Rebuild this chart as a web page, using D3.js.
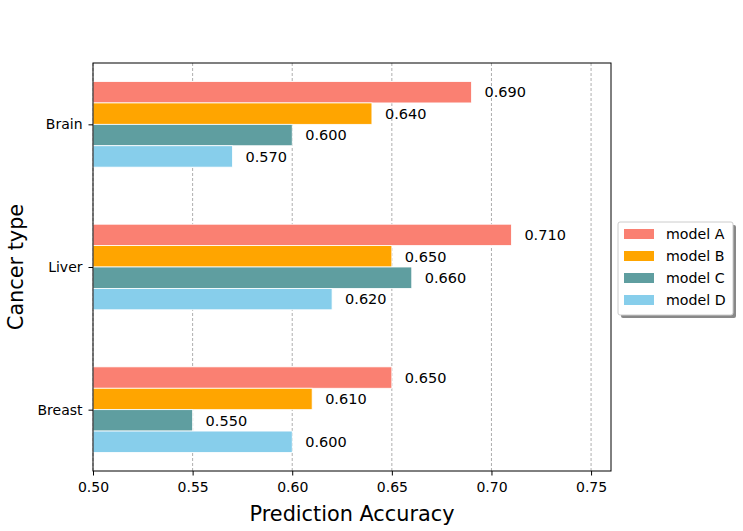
<!DOCTYPE html>
<html>
<head>
<meta charset="utf-8">
<script src="https://cdn.jsdelivr.net/npm/d3@7"></script>
<style>
  body { margin: 0; background: #fff; }
  text { font-family: "DejaVu Sans", sans-serif; fill: #000; }
</style>
</head>
<body>
<div id="chart"></div>
<script>
// Chart data
const cancerTypes = ["Breast", "Liver", "Brain"];
const models = ["model A", "model B", "model C", "model D"];
const modelA = [0.65, 0.71, 0.69];
const modelB = [0.61, 0.65, 0.64];
const modelC = [0.55, 0.66, 0.60];
const modelD = [0.60, 0.62, 0.57];
const xTicks = [0.50, 0.55, 0.60, 0.65, 0.70, 0.75];
const colors = ["#FA8072", "#FFA500", "#5F9EA0", "#87CEEB"];

const seriesValues = [modelA, modelB, modelC, modelD];

// Dimensions
const W = 743, H = 531;
const margin = { top: 63, right: 132, bottom: 60, left: 93 };
const width = W - margin.left - margin.right;
const height = H - margin.top - margin.bottom;

const svg = d3.select("#chart")
  .append("svg")
  .attr("width", W)
  .attr("height", H);

const g = svg.append("g")
  .attr("transform", `translate(${margin.left},${margin.top})`);

// Scales
const x = d3.scaleLinear().domain([0.5, 0.76]).range([0, width]);
const y = d3.scaleLinear().domain([-0.43, 2.43]).range([height, 0]);
const barH = 0.15;
const offsets = [0.225, 0.075, -0.075, -0.225];

// Grid
g.selectAll(".grid")
  .data(xTicks)
  .enter()
  .append("line")
  .attr("x1", (d) => x(d))
  .attr("x2", (d) => x(d))
  .attr("y1", 0)
  .attr("y2", height)
  .attr("stroke", "#999")
  .attr("stroke-width", 0.8)
  .attr("stroke-dasharray", "3,2");

// Bars
const rows = [];
seriesValues.forEach((vals, si) => {
  vals.forEach((v, ci) => rows.push({ si, ci, v }));
});

g.selectAll(".bar")
  .data(rows)
  .enter()
  .append("rect")
  .attr("x", x(0.5))
  .attr("y", (d) => y(d.ci + offsets[d.si] + barH / 2))
  .attr("width", (d) => x(d.v) - x(0.5))
  .attr("height", (d) => y(0) - y(barH))
  .attr("fill", (d) => colors[d.si])
  .attr("stroke", "#fff")
  .attr("stroke-width", 0.8);

// Value labels
g.selectAll(".val")
  .data(rows)
  .enter()
  .append("text")
  .attr("x", (d) => x(d.v) + 13)
  .attr("y", (d) => y(d.ci + offsets[d.si]))
  .attr("dy", "0.36em")
  .style("font-size", "14.5px")
  .text((d) => d.v.toFixed(3));

// Axes
const xAxis = g.append("g")
  .attr("transform", `translate(0,${height})`)
  .call(d3.axisBottom(x).tickValues(xTicks).tickFormat(d3.format(".2f")).tickSizeOuter(0).tickSize(4.5).tickPadding(5));
xAxis.selectAll("text").style("font-size", "14px").attr("dy", "0.8em");

const yAxis = g.append("g")
  .call(d3.axisLeft(y).tickValues([0, 1, 2]).tickFormat((d) => cancerTypes[d]).tickSizeOuter(0).tickSize(4.5).tickPadding(6));
yAxis.selectAll("text").style("font-size", "14px");

[xAxis, yAxis].forEach((a) => {
  a.select(".domain").remove();
  a.selectAll("line").attr("stroke", "#000").attr("stroke-width", 1);
});

// Frame
g.append("rect")
  .attr("width", width)
  .attr("height", height)
  .attr("fill", "none")
  .attr("stroke", "#000")
  .attr("stroke-width", 1);

// Axis labels
g.append("text")
  .attr("x", width / 2)
  .attr("y", height + 50)
  .attr("text-anchor", "middle")
  .style("font-size", "20.8px")
  .text("Prediction Accuracy");

g.append("text")
  .attr("transform", `translate(-70,${height / 2}) rotate(-90)`)
  .attr("text-anchor", "middle")
  .style("font-size", "20.8px")
  .text("Cancer type");

// Legend
const legend = svg.append("g").attr("transform", "translate(618,222)");
legend.append("rect")
  .attr("x", 3).attr("y", 3)
  .attr("width", 115).attr("height", 93)
  .attr("rx", 2)
  .attr("fill", "#888");
legend.append("rect")
  .attr("width", 115).attr("height", 93)
  .attr("rx", 2)
  .attr("fill", "#fff")
  .attr("stroke", "#ccc");

const items = legend.selectAll(".item")
  .data(models)
  .enter()
  .append("g")
  .attr("transform", (d, i) => `translate(6,${12 + i * 22})`);

items.append("rect")
  .attr("y", -5)
  .attr("width", 30)
  .attr("height", 10)
  .attr("fill", (d, i) => colors[i]);

items.append("text")
  .attr("x", 42)
  .attr("dy", "0.36em")
  .style("font-size", "14.2px")
  .text((d) => d);
</script>
</body>
</html>
